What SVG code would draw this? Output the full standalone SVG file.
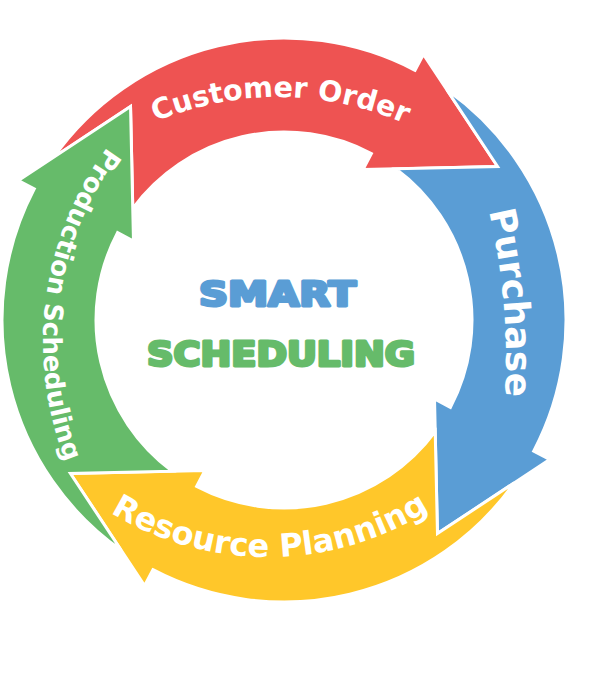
<svg xmlns="http://www.w3.org/2000/svg" xmlns:xlink="http://www.w3.org/1999/xlink" width="590" height="690" viewBox="0 0 590 690">
  <style>
    .arrow { stroke: #ffffff; stroke-width: 3; stroke-linejoin: miter; }
    .lbl { font-family: "DejaVu Sans", "Liberation Sans", sans-serif; font-weight: bold; fill: #ffffff; }
    .title { font-family: "DejaVu Sans", "Liberation Sans", sans-serif; font-weight: bold; stroke-width: 3; stroke-linejoin: round; }
  </style>
  <defs>
    <path id="arrow" d="M 53.77 157.16 A 282 282 0 0 1 415.08 70.32 L 423.45 54.38 L 497.58 166.53 L 363.02 169.48 L 371.39 153.55 A 188 188 0 0 0 132.80 208.27 L 130.53 106.42 Z"/>
    <path id="p-co" d="M 63.17 181.62 A 315 315 0 0 1 508.38 197.17"/>
    <path id="p-pu" d="M 471.3 150 A 653 653 0 0 1 496.7 470"/>
    <path id="p-rp" d="M 56.14 470.22 A 302 302 0 0 0 483.22 466.86"/>
    <path id="p-ps" d="M 171.33 81.78 A 328 328 0 0 0 110.78 541.67"/>
  </defs>
  <rect width="590" height="690" fill="#ffffff"/>
  <g id="connectors"/>
  <g id="node-customer-order">
    <use xlink:href="#arrow" class="arrow" fill="#EE5352"/>
    <text class="lbl" font-size="28.5"><textPath xlink:href="#p-co" startOffset="48.3%" text-anchor="middle">Customer Order</textPath></text>
  </g>
  <g id="node-purchase">
    <use xlink:href="#arrow" class="arrow" fill="#5A9DD5" transform="rotate(90 284 320)"/>
    <text class="lbl" font-size="36"><textPath xlink:href="#p-pu" startOffset="157" text-anchor="middle">Purchase</textPath></text>
  </g>
  <g id="node-resource-planning">
    <use xlink:href="#arrow" class="arrow" fill="#FFC72A" transform="rotate(180 284 320)"/>
    <text class="lbl" font-size="32"><textPath xlink:href="#p-rp" startOffset="50%" text-anchor="middle">Resource Planning</textPath></text>
  </g>
  <g id="node-production-scheduling">
    <use xlink:href="#arrow" class="arrow" fill="#66BB6A" transform="rotate(270 284 320)"/>
    <text class="lbl" font-size="26"><textPath xlink:href="#p-ps" startOffset="50%" text-anchor="middle">Production Scheduling</textPath></text>
  </g>
  <g id="node-center">
    <text class="title" x="199" y="306" font-size="33" fill="#5A9DD5" stroke="#5A9DD5" textLength="157" lengthAdjust="spacingAndGlyphs">SMART</text>
    <text class="title" x="147" y="366" font-size="33" fill="#66BB6A" stroke="#66BB6A" textLength="268" lengthAdjust="spacingAndGlyphs">SCHEDULING</text>
  </g>
</svg>
